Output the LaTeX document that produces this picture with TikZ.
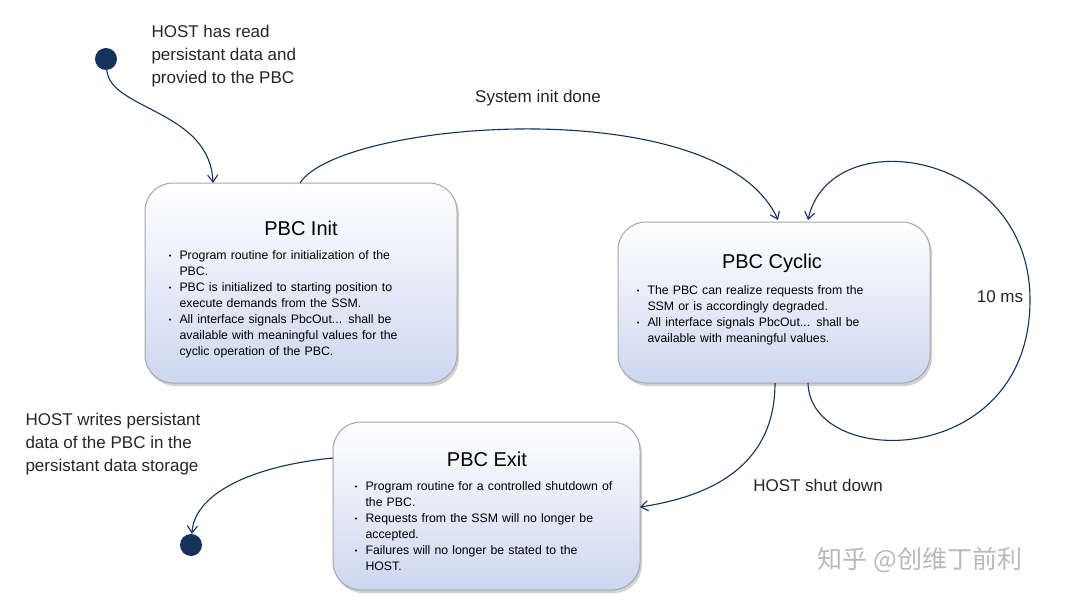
\documentclass[tikz,border=0pt]{standalone}
\usepackage{fontspec}
\setmainfont{Liberation Sans}
\newfontfamily\cjk{Noto Sans CJK SC}
\usetikzlibrary{shadows,arrows.meta}
\newcommand{\mybul}{\raisebox{1.5pt}{\scalebox{0.6}{\textbullet}}}
\begin{document}
\begin{tikzpicture}[x=1pt,y=-1pt,
  state/.style={draw=gray!70,rounded corners=28pt,top color=white,bottom color={rgb,255:red,205;green,215;blue,240},
    drop shadow={shadow xshift=2pt,shadow yshift=-3pt,opacity=0.35},line width=1pt},
  dot/.style={circle,fill={rgb,255:red,20;green,50;blue,90},inner sep=0pt,minimum size=22pt},
  tr/.style={draw={rgb,255:red,20;green,50;blue,90},line width=1.1pt,-{Straight Barb[length=7pt,width=10pt]}},
  lbl/.style={font=\fontsize{17}{23}\selectfont,align=left,text=black!85},
  ttl/.style={font=\fontsize{20}{22}\selectfont},
  body/.style={font=\fontsize{12.3}{16}\selectfont,align=left,text width=252pt}]
\useasboundingbox (0,0) rectangle (1080,605);
\fill[white] (0,0) rectangle (1080,605);
\path[state] (145,183) rectangle (457,383);
\path[state] (618,222) rectangle (930,383);
\path[state] (333,422) rectangle (640,590);
\node[ttl] (ti) at (301,228) {PBC Init};
\node[ttl] (tc) at (772,263) {PBC Cyclic};
\node[ttl] (te) at (487,459) {PBC Exit};
\node[body,anchor=north west] (bi) at (160,240) {\begin{list}{}{\leftmargin=16pt\labelsep=8pt\itemsep=0pt\parsep=0pt\topsep=0pt}
\item[\mybul] Program routine for initialization of the PBC.
\item[\mybul] PBC is initialized to starting position to execute demands from the SSM.
\item[\mybul] All interface signals PbcOut... shall be available with meaningful values for the cyclic operation of the PBC.\end{list}};
\node[body,anchor=north west] (bc) at (628,275) {\begin{list}{}{\leftmargin=16pt\labelsep=8pt\itemsep=0pt\parsep=0pt\topsep=0pt}
\item[\mybul] The PBC can realize requests from the SSM or is accordingly degraded.
\item[\mybul] All interface signals PbcOut... shall be available with meaningful values.\end{list}};
\node[body,anchor=north west,text width=265pt] (be) at (346,471) {\begin{list}{}{\leftmargin=16pt\labelsep=8pt\itemsep=0pt\parsep=0pt\topsep=0pt}
\item[\mybul] Program routine for a controlled shutdown of the PBC.
\item[\mybul] Requests from the SSM will no longer be accepted.
\item[\mybul] Failures will no longer be stated to the\\HOST.\end{list}};
\node[dot] (s) at (106,59) {};
\node[dot] (e) at (191,545) {};
\coordinate (initTop) at (213,183);
\coordinate (initTop2) at (300,183);
\coordinate (cycTop) at (778,220);
\coordinate (cycTop2) at (808,220);
\coordinate (cycBot) at (808,383);
\coordinate (cycBot2) at (775,383);
\coordinate (exitR) at (640,507);
\coordinate (exitL) at (333,458);
\draw[tr] (s) .. controls (110,110) and (210,110) .. (initTop);
\draw[tr] (initTop2) .. controls (340,120) and (720,90) .. (cycTop);
\draw[tr] (cycBot) .. controls (810,470) and (1030,470) .. (1030,300) .. controls (1030,150) and (830,120) .. (cycTop2);
\draw[tr] (cycBot2) .. controls (775,460) and (720,495) .. (exitR);
\draw[tr] (exitL) .. controls (260,465) and (195,490) .. (e);
\node[lbl,anchor=north west] (l1) at (148,22) {HOST has read\\persistant data and\\provied to the PBC};
\node[lbl] (l2) at (538,98) {System init done};
\node[lbl] (l3) at (1000,297) {10 ms};
\node[lbl] (l4) at (818,485) {HOST shut down};
\node[lbl,anchor=north west] (l5) at (22,410) {HOST writes persistant\\data of the PBC in the\\persistant data storage};
\node[font=\cjk\fontsize{25}{26}\selectfont,text=gray!55] (wm) at (920,560) {知乎 @创维丁前利};
\end{tikzpicture}
\end{document}
